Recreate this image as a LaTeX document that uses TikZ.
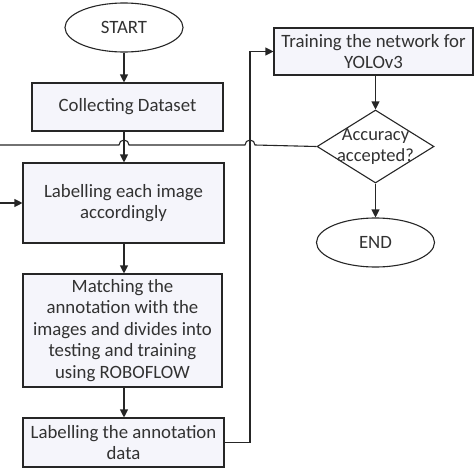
\documentclass[tikz,border=0pt]{standalone}
\usepackage{fontspec}
\setmainfont{Carlito}
\usetikzlibrary{shapes.geometric, arrows.meta}
\definecolor{LineGray}{RGB}{38, 38, 38}
\definecolor{TextGray}{RGB}{50, 50, 50}
\definecolor{BoxFill}{RGB}{245, 245, 251}

\begin{document}
\begin{tikzpicture}[x=1pt, y=-1pt,
    line/.style={draw=LineGray, line width=1.1pt},
    flow/.style={line, -{Triangle[length=8pt, width=8pt]}},
    procbox/.style={line, fill=BoxFill, rectangle, align=center, text=TextGray,
      font=\fontsize{18.8}{21.5}\selectfont, inner sep=0pt},
    terminal/.style={line, fill=white, ellipse, minimum width=118pt,
      minimum height=49pt, inner sep=0pt, text=TextGray, font=\fontsize{18.8}{21.5}\selectfont},
    decision/.style={line, fill=white, diamond, minimum width=117pt,
      minimum height=73pt, inner sep=0pt}]
    \useasboundingbox (0, 0) rectangle (474, 474);

    % Left column
    \node[terminal] (start) at (124, 27.5) {START};
    \node[procbox, minimum width=191pt, minimum height=48pt] (collect) at (127.5, 107) {Collecting Dataset};
    \node[procbox, minimum width=201pt, minimum height=80pt] (label) at (123.5, 203) {Labelling each image\\accordingly};
    \node[procbox, minimum width=199pt, minimum height=113pt] (match) at (122.5, 330.5)
      {Matching the\\annotation with the\\images and divides into\\testing and training\\using ROBOFLOW};
    \node[procbox, minimum width=201pt, minimum height=49pt] (annot) at (123.5, 442.5) {Labelling the annotation\\data};

    % Right column
    \node[procbox, minimum width=199pt, minimum height=47pt] (train) at (373.5, 51.5) {Training the network for\\YOLOv3};
    \node[decision] (check) at (375.5, 146.5) {};
    \node[text=TextGray, align=center, font=\fontsize{18.5}{21}\selectfont] (checktext) at (check) {Accuracy\\accepted?};
    \node[terminal] (stop) at (375.5, 242.5) {END};

    % Loose ends at the left border
    \coordinate (loopout) at (0, 145);
    \coordinate (loopin) at (0, 203);

    % Arrows
    \draw[flow] (start.south) -- (start.south |- collect.north);
    \draw[flow] (start.south |- collect.south) -- (start.south |- label.north);
    \draw[flow] (start.south |- label.south) -- (start.south |- match.north);
    \draw[flow] (start.south |- match.south) -- (start.south |- annot.north);
    \draw[flow] (annot.east) -| (250, 51.5) -- (train.west);
    \draw[flow] (train.south -| check.north) -- (check.north);
    \draw[flow] (check.south) -- (stop.north);
    \draw[flow] (loopin) -- (label.west);

    % Loop back with hops
    \draw[line] (check.west) -- (255, 145)
      arc[start angle=0, end angle=180, radius=5pt] -- (129, 145)
      arc[start angle=0, end angle=180, radius=5pt] -- (loopout);
\end{tikzpicture}
\end{document}
